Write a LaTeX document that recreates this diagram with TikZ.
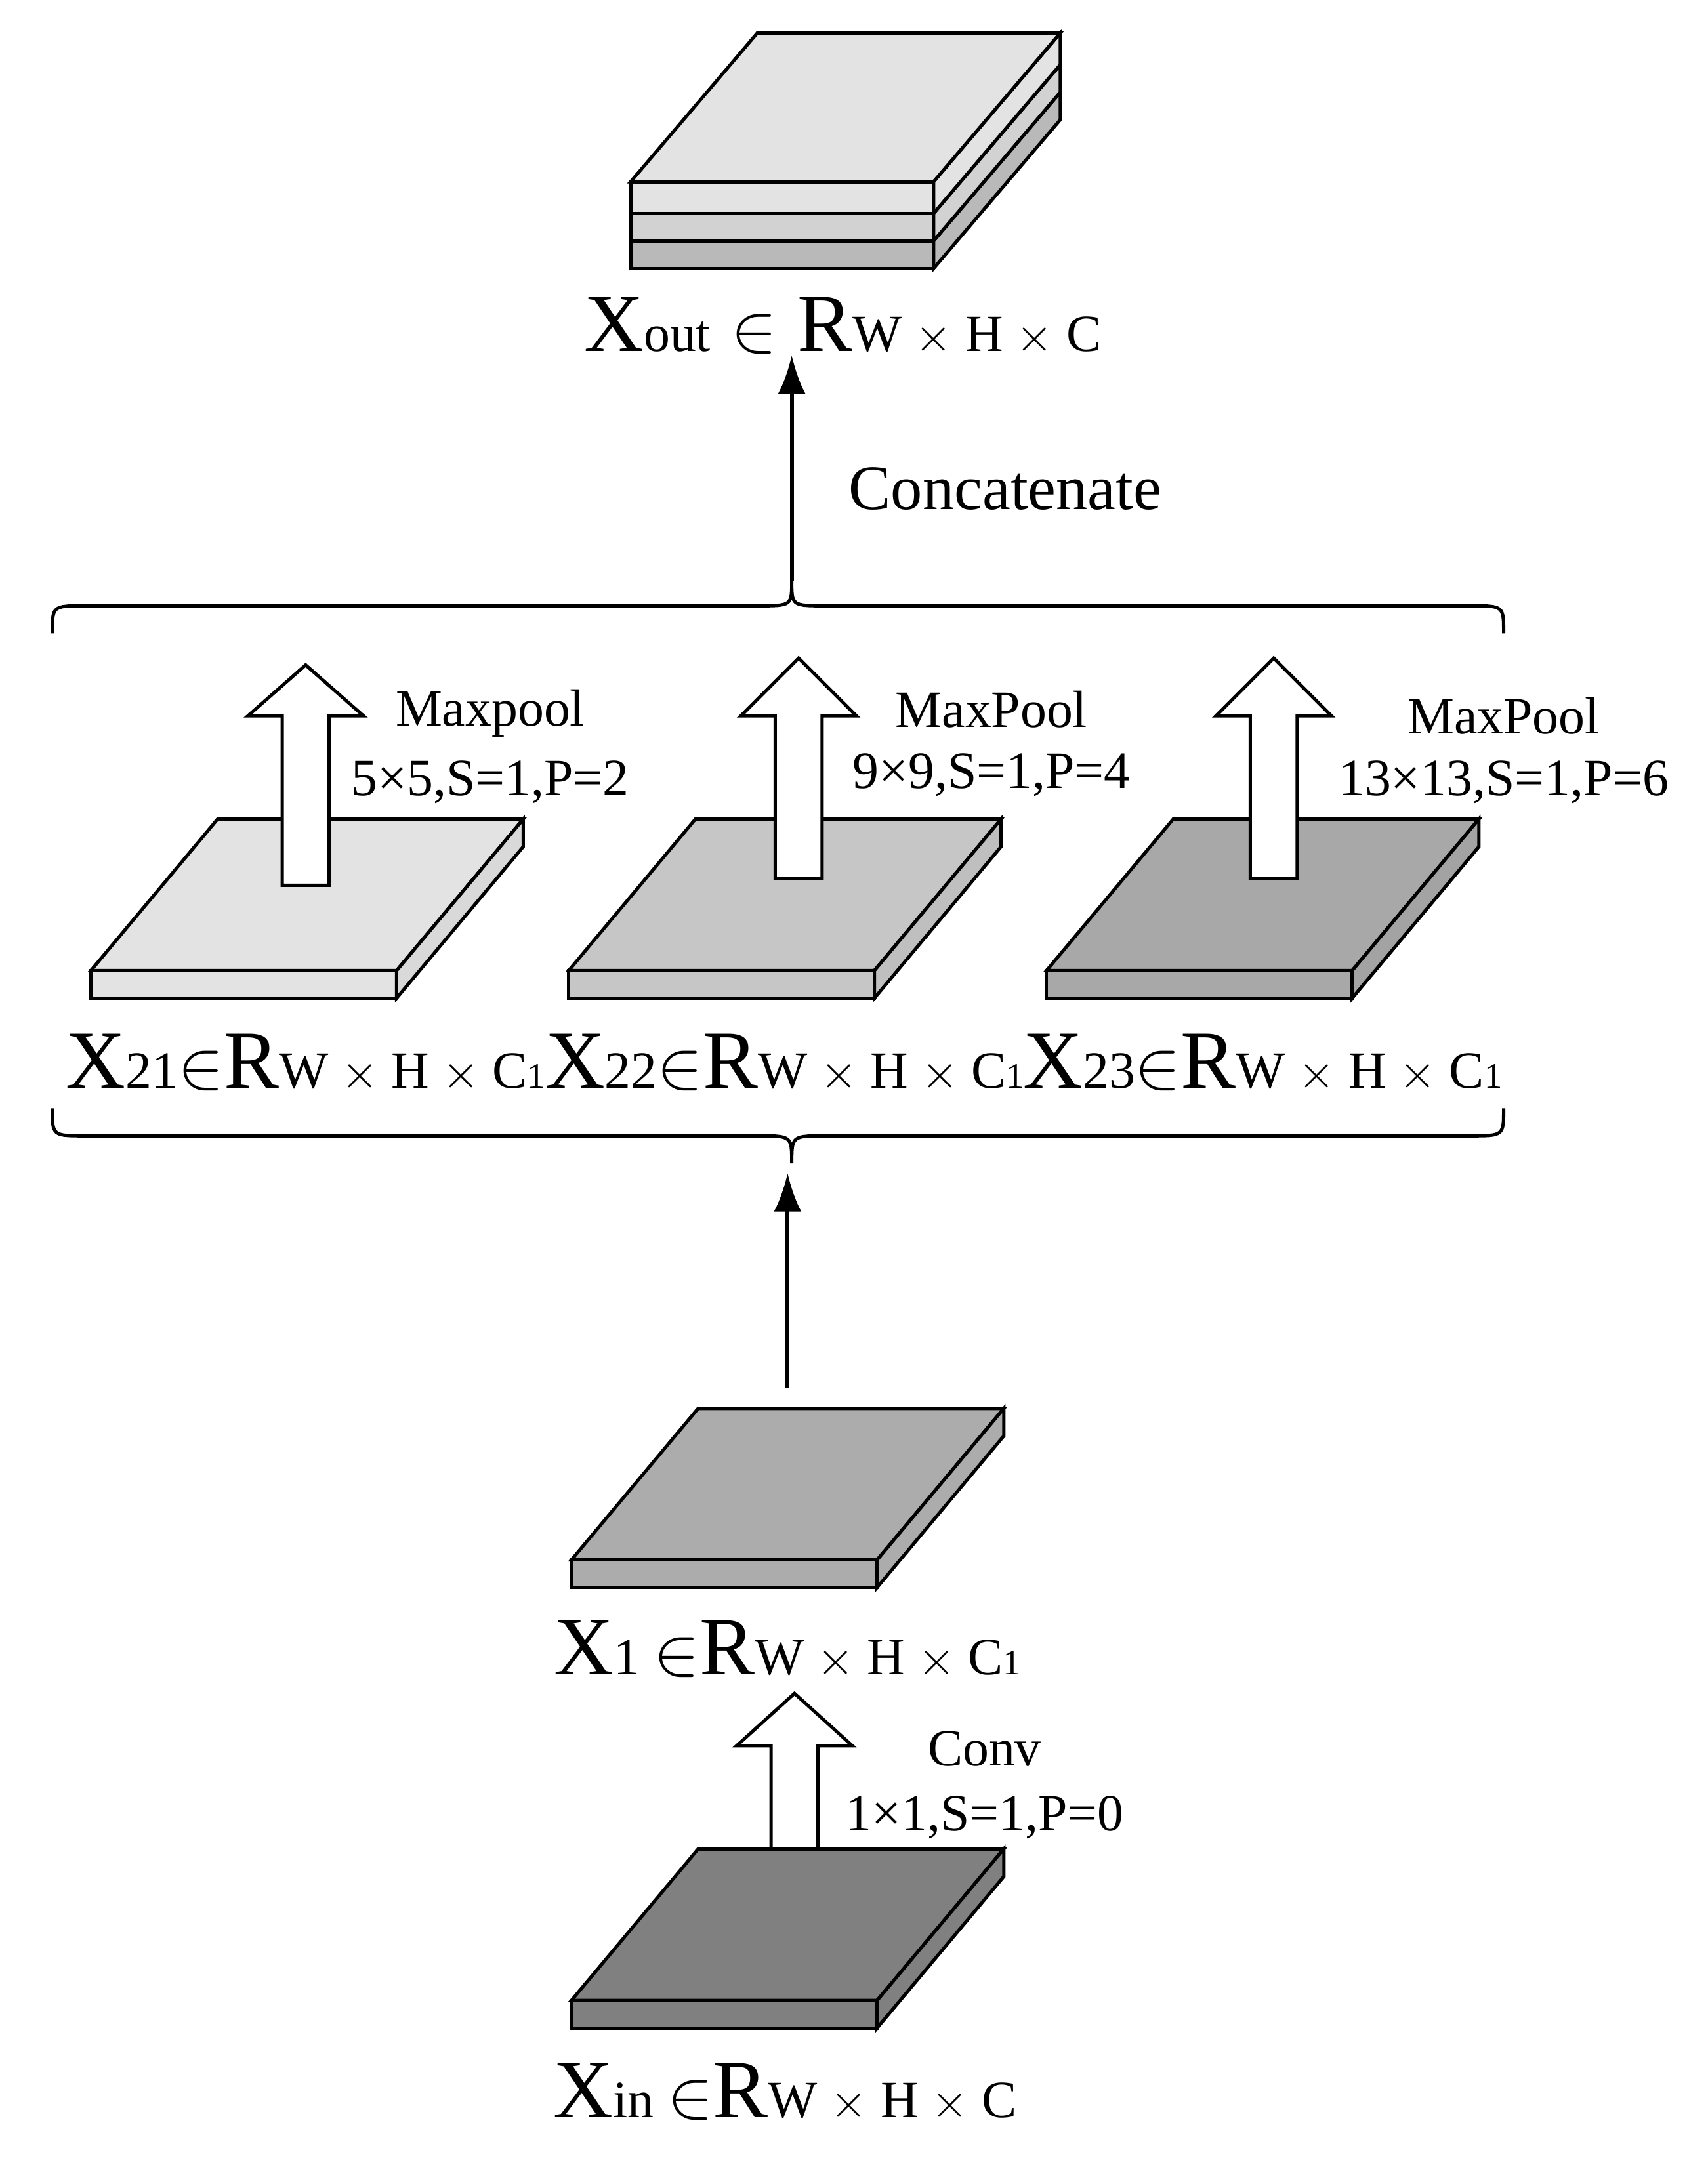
\documentclass[tikz,border=0pt]{standalone}
\usepackage{fontspec}
\setmainfont{Liberation Serif}
\usetikzlibrary{arrows.meta}
\begin{document}
\begin{tikzpicture}[x=0.5pt,y=-0.5pt,line width=1.2pt,
  big/.style={font=\fontsize{30}{32}\selectfont,inner sep=0pt},
  lab/.style={font=\fontsize{19}{22}\selectfont,align=center,inner sep=0pt},
  conc/.style={font=\fontsize{23}{26}\selectfont,inner sep=0pt},
  flow/.style={-{Latex[length=14pt,width=10pt]},line width=1.4pt}]
\useasboundingbox (0,0) rectangle (1240,1574);
\newcommand\plate[4]{% x, yfront, fill, side
  \draw[fill=#3] (#1,#2) -- ++(92,-110) -- ++(222,0) -- ++(-92,110) -- cycle;
  \draw[fill=#3] (#1,#2) rectangle ++(222,20);
  \draw[fill=#4] (#1+222,#2) -- ++(92,-110) -- ++(0,20) -- ++(-92,110) -- cycle;}
\newcommand\hollow[4]{% cx, tip y, base y, bottom y
  \draw[fill=white] (#1,#2) -- (#1+42,#3) -- (#1+17,#3) -- (#1+17,#4) -- (#1-17,#4) -- (#1-17,#3) -- (#1-42,#3) -- cycle;}
% top stack
\draw[fill=gray!55] (458,175) rectangle (678,195);
\draw[fill=gray!55] (678,175) -- (770,67) -- (770,87) -- (678,195) -- cycle;
\draw[fill=gray!35] (458,155) rectangle (678,175);
\draw[fill=gray!35] (678,155) -- (770,47) -- (770,67) -- (678,175) -- cycle;
\draw[fill=gray!22] (458,132) rectangle (678,155);
\draw[fill=gray!22] (678,132) -- (770,24) -- (770,47) -- (678,155) -- cycle;
\draw[fill=gray!22] (458,132) -- (550,24) -- (770,24) -- (678,132) -- cycle;
\node[big] (xout) at (612,237) {X\fontsize{19}{20}\selectfont out\fontsize{30}{32}\selectfont\ $\in$ R\fontsize{19}{20}\selectfont W $\times$ H $\times$ C};
% concatenate
\coordinate (ctip) at (575,258);
\coordinate (cbase) at (575,422);
\draw[flow] (cbase) -- (ctip);
\node[conc] (cat) at (730,355) {Concatenate};
\draw (38,460) .. controls (38,440) .. (62,440) -- (550,440) .. controls (575,440) .. (575,422)
  .. controls (575,440) .. (600,440) -- (1068,440) .. controls (1092,440) .. (1092,460);
% plates
\plate{66}{705}{gray!22}{gray!30}
\plate{413}{705}{gray!45}{gray!50}
\plate{760}{705}{gray!68}{gray!72}
\hollow{222}{483}{520}{643}
\hollow{580}{478}{520}{638}
\hollow{925}{478}{520}{638}
\node[lab] (m1) at (356,518) {Maxpool};
\node[lab] (p1) at (356,568) {5×5,S=1,P=2};
\node[lab] (m2) at (720,515) {MaxPool};
\node[lab] (p2) at (720,563) {9×9,S=1,P=4};
\node[lab] (m3) at (1092,520) {MaxPool};
\node[lab] (p3) at (1092,568) {13×13,S=1,P=6};
\node[big] (x21) at (222,772) {X\fontsize{19}{20}\selectfont 21\fontsize{30}{32}\selectfont$\in$R\fontsize{19}{20}\selectfont W $\times$ H $\times$ C\fontsize{13}{14}\selectfont 1};
\node[big] (x22) at (570,772) {X\fontsize{19}{20}\selectfont 22\fontsize{30}{32}\selectfont$\in$R\fontsize{19}{20}\selectfont W $\times$ H $\times$ C\fontsize{13}{14}\selectfont 1};
\node[big] (x23) at (917,772) {X\fontsize{19}{20}\selectfont 23\fontsize{30}{32}\selectfont$\in$R\fontsize{19}{20}\selectfont W $\times$ H $\times$ C\fontsize{13}{14}\selectfont 1};
\draw (38,805) .. controls (38,825) .. (62,825) -- (550,825) .. controls (575,825) .. (575,845)
  .. controls (575,825) .. (600,825) -- (1068,825) .. controls (1092,825) .. (1092,805);
\coordinate (atip) at (572,852);
\coordinate (abase) at (572,1008);
\draw[flow] (abase) -- (atip);
% X1
\plate{415}{1133}{gray!65}{gray!65}
\node[big] (x1) at (572,1198) {X\fontsize{19}{20}\selectfont 1\fontsize{30}{32}\selectfont\,$\in$R\fontsize{19}{20}\selectfont W $\times$ H $\times$ C\fontsize{13}{14}\selectfont 1};
\hollow{577}{1230}{1268}{1388}
\node[lab] (conv) at (715,1270) {Conv};
\node[lab] (pc) at (715,1320) {1×1,S=1,P=0};
% Xin
\plate{415}{1453}{gray}{gray}
\node[big] (xin) at (570,1520) {X\fontsize{19}{20}\selectfont in\fontsize{30}{32}\selectfont\,$\in$R\fontsize{19}{20}\selectfont W $\times$ H $\times$ C};
\end{tikzpicture}
\end{document}
